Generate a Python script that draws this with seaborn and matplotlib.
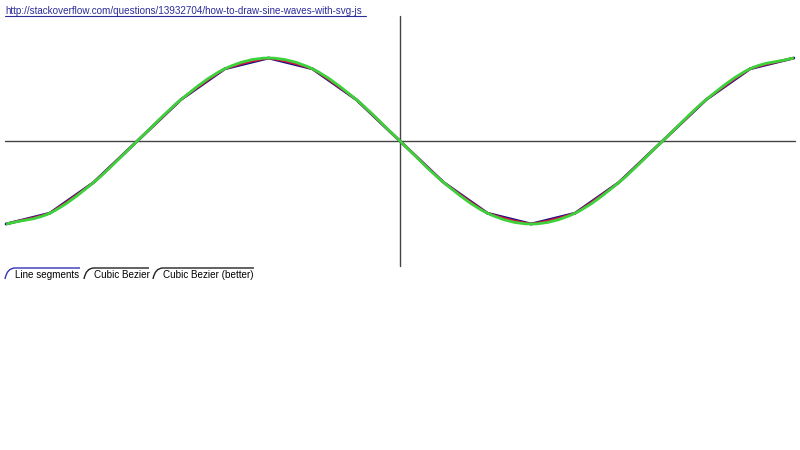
import numpy as np
import pandas as pd
import matplotlib
matplotlib.use("Agg")
import matplotlib.pyplot as plt
from matplotlib.path import Path
from matplotlib.patches import PathPatch
import seaborn as sns

sns.set_style("white")
plt.rcParams['font.family'] = ['Liberation Sans', 'DejaVu Sans']

# vertices of the wave, every 30 degrees (amplitude = 1)
angles = [-90, -60, -30, 0, 30, 60, 90, 120, 150, 180, 210, 240, 270,
          300, 330, 360, 390, 420, 450]
values = [-1.0, -0.87, -0.5, 0.0, 0.5, 0.87, 1.0, 0.87, 0.5, 0.0, -0.5, -0.87,
          -1.0, -0.87, -0.5, 0.0, 0.5, 0.87, 1.0]

legend_labels = ['Line segments', 'Cubic Bezier', 'Cubic Bezier (better)']
url = 'http://stackoverflow.com/questions/13932704/how-to-draw-sine-waves-with-svg-js'

df = pd.DataFrame({'angle': angles, 'value': values})


def bezier_path(xs, ys, smooth):
    # cubic bezier through the vertices; smooth=0 -> straight, 1 -> catmull-rom tangents
    xs = np.asarray(xs, float)
    ys = np.asarray(ys, float)
    n = len(xs)
    ty = np.gradient(ys)
    verts = [(xs[0], ys[0])]
    codes = [Path.MOVETO]
    for i in range(n - 1):
        dx, dy = xs[i + 1] - xs[i], ys[i + 1] - ys[i]
        c1 = (xs[i] + dx / 3, ys[i] + (dy / 3) * (1 - smooth) + (ty[i] / 3) * smooth)
        c2 = (xs[i + 1] - dx / 3, ys[i + 1] - (dy / 3) * (1 - smooth) - (ty[i + 1] / 3) * smooth)
        verts += [c1, c2, (xs[i + 1], ys[i + 1])]
        codes += [Path.CURVE4] * 3
    return Path(verts, codes)


fig = plt.figure(figsize=(8, 4.5), dpi=100)
ax = fig.add_axes([0, 0, 1, 1])
ax.set_xlim(-94.1, 454.2)
ax.set_ylim(-3.723, 1.699)
ax.axis('off')

# axes lines
ax.plot([-90.7, 451], [0, 0], color='#444444', lw=1.0, zorder=0)
ax.plot([180, 180], [-1.506, 1.506], color='#444444', lw=1.0, zorder=0)

sns.lineplot(data=df, x='angle', y='value', sort=False, color='#10108a',
             lw=2.0, ax=ax, estimator=None, zorder=1)
ax.add_patch(PathPatch(bezier_path(angles, values, 0.4), facecolor='none',
                       edgecolor='#d8143c', lw=1.8, zorder=2))
ax.add_patch(PathPatch(bezier_path(angles, values, 1.0), facecolor='none',
                       edgecolor='#3bd23b', lw=2.0, zorder=3))
ax.set_xlabel('')
ax.set_ylabel('')

# overlay in pixel units for link and legend
ov = fig.add_axes([0, 0, 1, 1], facecolor='none')
ov.set_xlim(0, 800)
ov.set_ylim(450, 0)
ov.axis('off')

ov.text(5, 14, url, color='#2b2b9a', fontsize=7.15, va='baseline', ha='left')
ov.plot([5, 366], [15.5, 15.5], color='#2b2b9a', lw=0.8)

leg_x = [5, 84, 153]
leg_end = [80, 149, 254]
leg_col = ['#3333bb', '#222222', '#222222']
for lab, x0, x1, c in zip(legend_labels, leg_x, leg_end, leg_col):
    p = Path([(x0, 279), (x0 + 2, 268), (x0 + 10, 268), (x1, 268)],
             [Path.MOVETO, Path.CURVE3, Path.CURVE3, Path.LINETO])
    ov.add_patch(PathPatch(p, facecolor='none', edgecolor=c, lw=1.0))
    ov.text(x0 + 10, 275, lab, color='black', fontsize=7.15, va='center', ha='left')

fig.savefig('out.png', dpi=100)
